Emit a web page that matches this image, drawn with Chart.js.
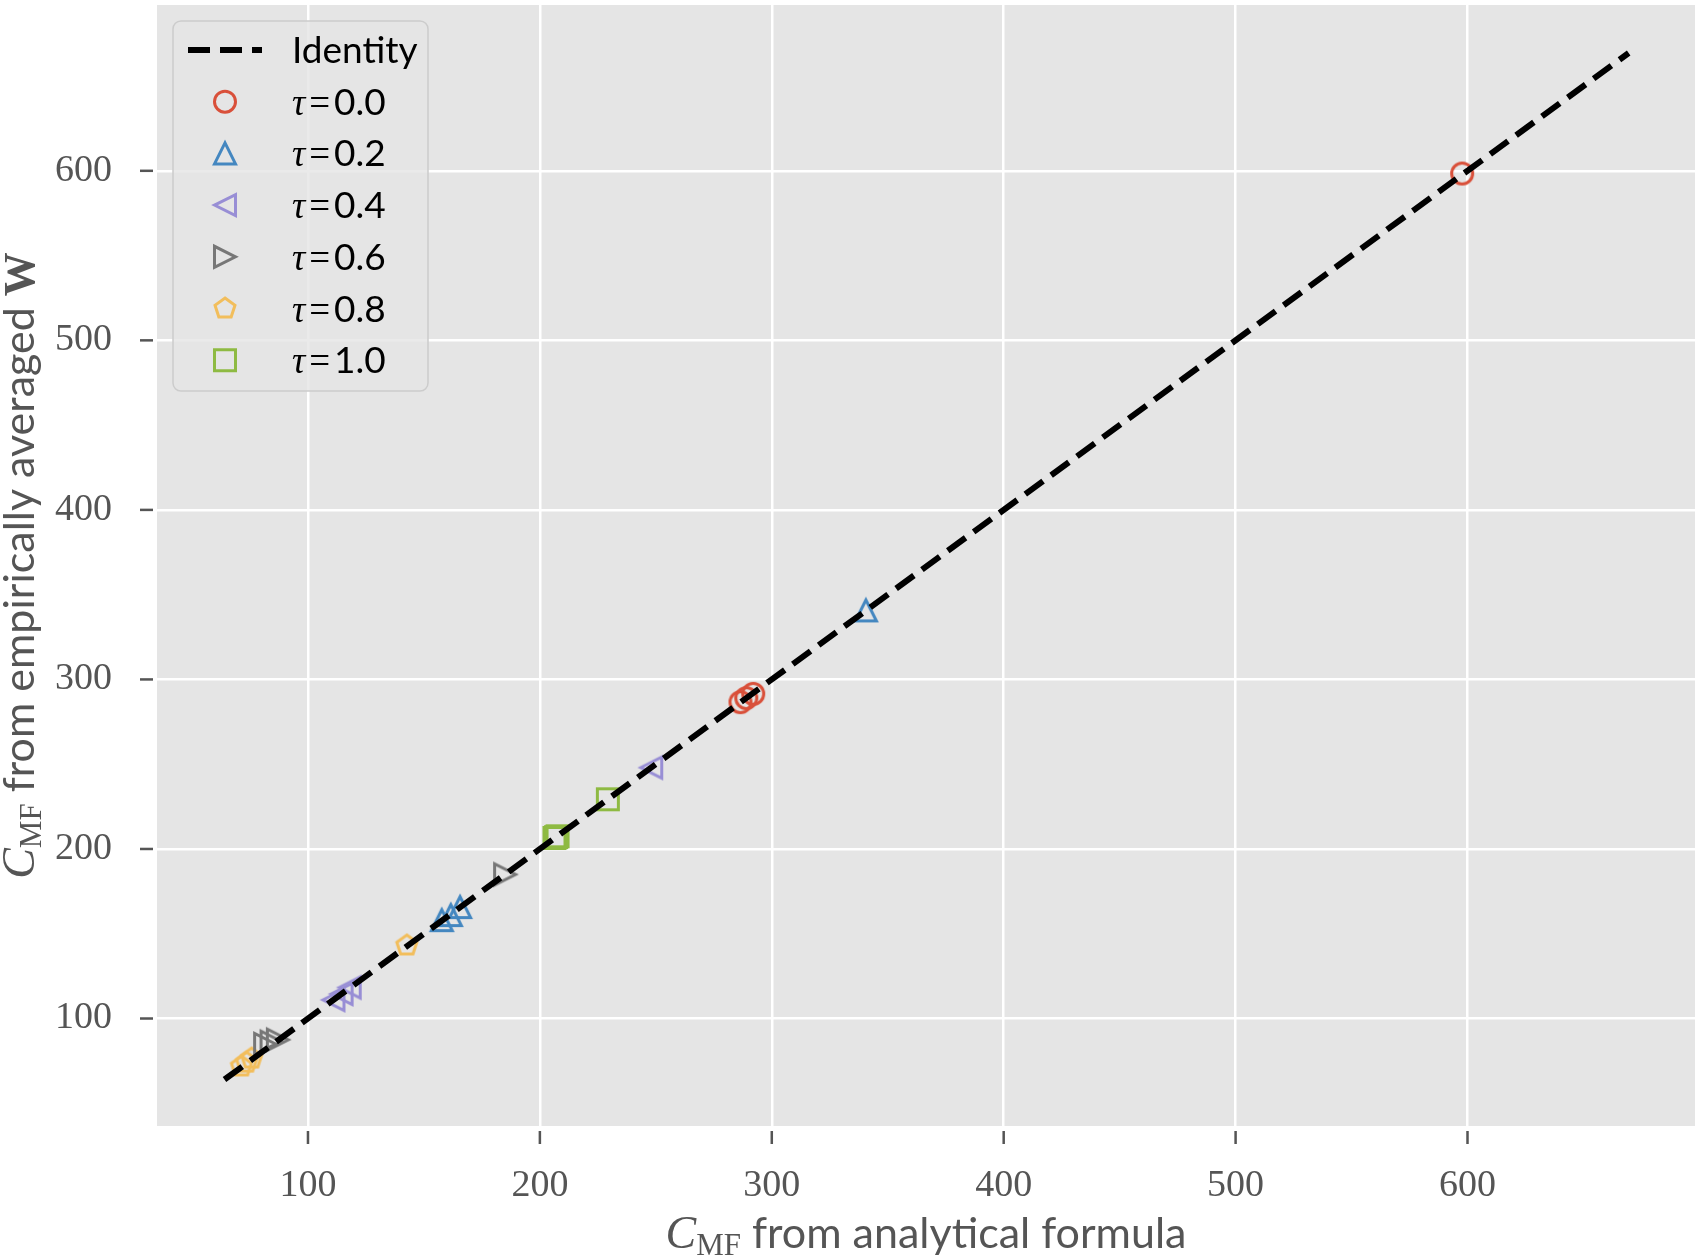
<!DOCTYPE html>
<html>
<head>
<meta charset="utf-8">
<script src="https://cdn.jsdelivr.net/npm/chart.js@4/dist/chart.umd.min.js"></script>
<style>
html,body{margin:0;padding:0;background:#ffffff;}
#wrap{width:1700px;height:1259px;}
</style>
</head>
<body>
<div id="wrap"><canvas id="c" width="1700" height="1259"></canvas></div>
<script>
// ---------------- data ----------------
const xTickValues = [100, 200, 300, 400, 500, 600];
const yTickValues = [100, 200, 300, 400, 500, 600];
const identityX = [64, 669.5];
const identityY = [64, 669.5];
const identityLabel = 'Identity';
const tauLabels = ['0.0', '0.2', '0.4', '0.6', '0.8', '1.0'];

const tau00X = [286.5, 289.0, 292.0, 597.7];
const tau00Y = [286.6, 289.0, 291.5, 598.4];
const tau02X = [157.7, 161.6, 165.6, 340.6];
const tau02Y = [158.0, 161.0, 165.7, 340.7];
const tau04X = [111.0, 114.5, 118.0, 248.0];
const tau04Y = [111.0, 114.5, 118.3, 248.0];
const tau06X = [81.5, 84.3, 87.0, 185.0];
const tau06Y = [85.0, 86.3, 87.5, 185.0];
const tau08X = [71.3, 73.5, 75.7, 142.6];
const tau08Y = [71.7, 74.0, 76.4, 143.1];
const tau10X = [206.3, 207.0, 207.6, 229.3];
const tau10Y = [206.5, 207.0, 207.5, 229.3];

const seriesX = [tau00X, tau02X, tau04X, tau06X, tau08X, tau10X];
const seriesY = [tau00Y, tau02Y, tau04Y, tau06Y, tau08Y, tau10Y];
const seriesColors = ['#D9503A', '#4487C0', '#988ED5', '#777777', '#F2BE5C', '#8EBA42'];
const seriesMarkers = ['circle', 'up', 'left', 'right', 'pentagon', 'square'];

// ---------------- markers ----------------
const MS = 21, MLW = 3;
function markerPath(ctx, type, cx, cy, s) {
  const h = s / 2;
  ctx.beginPath();
  if (type === 'circle') {
    ctx.arc(cx, cy, h, 0, Math.PI * 2);
  } else if (type === 'up') {
    ctx.moveTo(cx, cy - h); ctx.lineTo(cx - h, cy + h); ctx.lineTo(cx + h, cy + h);
  } else if (type === 'left') {
    ctx.moveTo(cx - h, cy); ctx.lineTo(cx + h, cy - h); ctx.lineTo(cx + h, cy + h);
  } else if (type === 'right') {
    ctx.moveTo(cx + h, cy); ctx.lineTo(cx - h, cy - h); ctx.lineTo(cx - h, cy + h);
  } else if (type === 'pentagon') {
    for (let i = 0; i < 5; i++) {
      const a = -Math.PI / 2 + i * 2 * Math.PI / 5;
      const px = cx + h * Math.cos(a), py = cy + h * Math.sin(a);
      if (i === 0) ctx.moveTo(px, py); else ctx.lineTo(px, py);
    }
  } else if (type === 'square') {
    ctx.rect(cx - h, cy - h, s, s);
  }
  ctx.closePath();
}
function markerCanvas(type, color) {
  const c = document.createElement('canvas');
  c.width = 30; c.height = 30;
  const g = c.getContext('2d');
  g.strokeStyle = color; g.lineWidth = MLW; g.lineJoin = 'miter';
  markerPath(g, type, 15, 15, MS);
  g.stroke();
  return c;
}

// ---------------- datasets ----------------
const datasets = [{
  label: identityLabel,
  data: identityX.map((v, i) => ({x: v, y: identityY[i]})),
  showLine: true,
  borderColor: '#000000',
  borderWidth: 6,
  borderDash: [22, 10],
  pointRadius: 0,
  order: 0
}];
for (let k = 0; k < seriesX.length; k++) {
  datasets.push({
    label: '\u03C4=' + tauLabels[k],
    data: seriesX[k].map((v, i) => ({x: v, y: seriesY[k][i]})),
    showLine: false,
    pointStyle: markerCanvas(seriesMarkers[k], seriesColors[k]),
    pointRadius: 12,
    borderColor: seriesColors[k],
    backgroundColor: 'transparent',
    order: 1
  });
}

// ---------------- text helpers ----------------
function drawParts(ctx, parts, cx, baseY, align) {
  let total = 0;
  parts.forEach(p => { ctx.font = p.f; p.w = ctx.measureText(p.t).width + (p.gap || 0) * 2; total += p.w; });
  let x = align === 'left' ? cx : cx - total / 2;
  parts.forEach(p => {
    ctx.font = p.f;
    ctx.fillText(p.t, x + (p.gap || 0), baseY + (p.dy || 0));
    x += p.w;
  });
}

const deco = {
  id: 'deco',
  beforeDraw(chart) {
    const {ctx, chartArea: a} = chart;
    ctx.save();
    ctx.fillStyle = '#E5E5E5';
    ctx.fillRect(a.left, a.top, a.right - a.left, a.bottom - a.top);
    ctx.restore();
  },
  afterDraw(chart) {
    const {ctx, chartArea: a} = chart;
    const xs = chart.scales.x, ys = chart.scales.y;
    ctx.save();
    // tick marks
    ctx.strokeStyle = '#555555'; ctx.lineWidth = 2.5;
    xTickValues.forEach(v => {
      const p = xs.getPixelForValue(v);
      ctx.beginPath(); ctx.moveTo(p, a.bottom + 5); ctx.lineTo(p, a.bottom + 18); ctx.stroke();
    });
    yTickValues.forEach(v => {
      const p = ys.getPixelForValue(v);
      ctx.beginPath(); ctx.moveTo(a.left - 4, p); ctx.lineTo(a.left - 17, p); ctx.stroke();
    });
    // axis titles
    ctx.fillStyle = '#555555';
    ctx.textBaseline = 'alphabetic';
    ctx.textAlign = 'left';
    const xParts = [
      {t: 'C', f: 'italic 46px "Liberation Serif"'},
      {t: 'MF', f: '31px "Liberation Serif"', dy: 7},
      {t: ' from analytical formula', f: '43px Lato'}
    ];
    drawParts(ctx, xParts, (a.left + a.right) / 2, 1248, 'center');
    const yParts = [
      {t: 'C', f: 'italic 46px "Liberation Serif"'},
      {t: 'MF', f: '31px "Liberation Serif"', dy: 7},
      {t: ' from empirically averaged ', f: '43px Lato'},
      {t: 'W', f: 'bold 44px "Liberation Serif"'}
    ];
    ctx.save();
    ctx.translate(34, (a.top + a.bottom) / 2);
    ctx.rotate(-Math.PI / 2);
    drawParts(ctx, yParts, 0, 0, 'center');
    ctx.restore();

    // legend
    const L = 173, T = 21, W = 255, H = 370, r = 8;
    ctx.beginPath();
    ctx.moveTo(L + r, T);
    ctx.arcTo(L + W, T, L + W, T + H, r);
    ctx.arcTo(L + W, T + H, L, T + H, r);
    ctx.arcTo(L, T + H, L, T, r);
    ctx.arcTo(L, T, L + W, T, r);
    ctx.closePath();
    ctx.fillStyle = 'rgba(229,229,229,0.8)';
    ctx.fill();
    ctx.strokeStyle = '#CCCCCC'; ctx.lineWidth = 1.5;
    ctx.stroke();

    const rowY = i => 50 + i * 51.7;
    // identity entry
    ctx.strokeStyle = '#000000'; ctx.lineWidth = 6;
    ctx.setLineDash([22, 10]);
    ctx.beginPath(); ctx.moveTo(188, rowY(0)); ctx.lineTo(262, rowY(0)); ctx.stroke();
    ctx.setLineDash([]);
    ctx.fillStyle = '#000000';
    ctx.font = '37px Lato';
    ctx.fillText(identityLabel, 292, rowY(0) + 13);
    for (let k = 0; k < seriesX.length; k++) {
      const y = rowY(k + 1);
      ctx.strokeStyle = seriesColors[k]; ctx.lineWidth = MLW;
      markerPath(ctx, seriesMarkers[k], 225, y, MS);
      ctx.stroke();
      ctx.fillStyle = '#000000';
      drawParts(ctx, [
        {t: '\u03C4', f: 'italic 37px "Liberation Serif"'},
        {t: '=', f: '37px "Liberation Serif"', gap: 4},
        {t: tauLabels[k], f: '37px Lato'}
      ], 292, y + 13, 'left');
    }
    ctx.restore();
  }
};

function zeroPad(s) { s.paddingTop = 0; s.paddingBottom = 0; s.paddingLeft = 0; s.paddingRight = 0; }

new Chart(document.getElementById('c'), {
  type: 'scatter',
  data: {datasets},
  options: {
    responsive: false,
    animation: false,
    devicePixelRatio: 1,
    layout: {autoPadding: false, padding: {top: 5, right: 5, left: 0, bottom: 0}},
    plugins: {legend: {display: false}, tooltip: {enabled: false}, title: {display: false}},
    scales: {
      x: {
        type: 'linear', position: 'bottom', min: 34.9, max: 698.1,
        afterBuildTicks: s => { s.ticks = xTickValues.map(v => ({value: v})); },
        afterFit: s => { s.height = 133; zeroPad(s); },
        grid: {color: '#FFFFFF', lineWidth: 2.5, drawTicks: false},
        border: {display: false},
        ticks: {font: {family: '"Liberation Serif"', size: 38}, color: '#555555', padding: 37, maxRotation: 0, autoSkip: false}
      },
      y: {
        type: 'linear', position: 'left', min: 36.6, max: 697.8,
        afterBuildTicks: s => { s.ticks = yTickValues.map(v => ({value: v})); },
        afterFit: s => { s.width = 157; zeroPad(s); },
        grid: {color: '#FFFFFF', lineWidth: 2.5, drawTicks: false},
        border: {display: false},
        ticks: {font: {family: '"Liberation Serif"', size: 38}, color: '#555555', padding: 45, autoSkip: false}
      }
    }
  },
  plugins: [deco]
});
</script>
</body>
</html>
